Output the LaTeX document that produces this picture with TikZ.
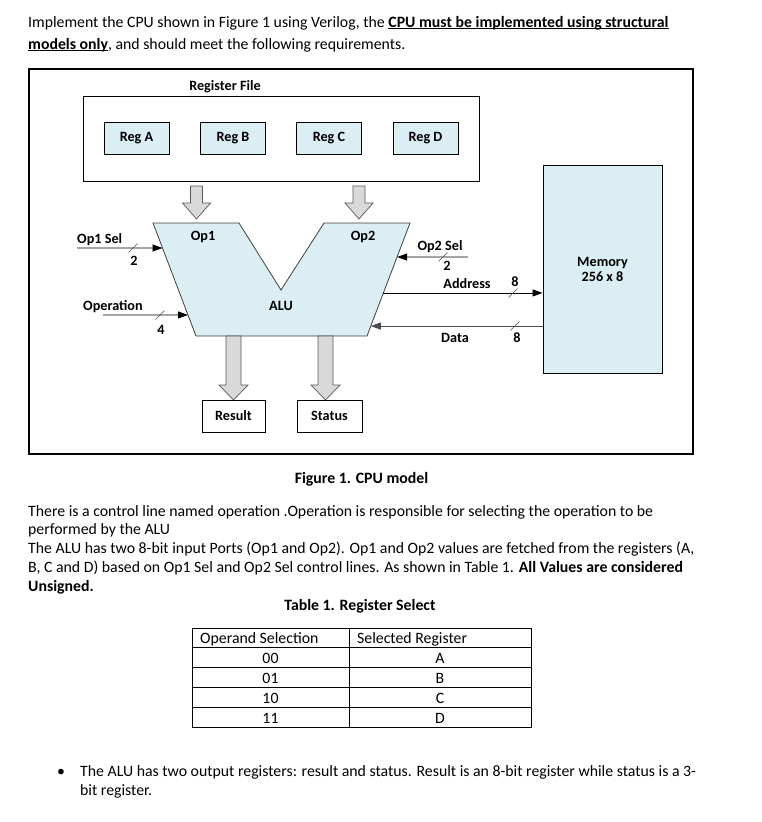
\documentclass[tikz,border=0pt]{standalone}
\usepackage{fontspec}
\setmainfont{Carlito}
\usetikzlibrary{arrows.meta,calc}
\definecolor{regblue}{HTML}{DAEEF3}
\definecolor{arrgray}{HTML}{D9D9D9}
\newcommand\bodyfont{\fontsize{15.8}{19}\selectfont}
\newcommand\diagfont{\fontsize{14.2}{16}\selectfont\bfseries}
\newcommand\myul[1]{\setbox0\hbox{#1}\rlap{\rule[-2.2pt]{\wd0}{1pt}}\box0}
\newcommand\blockarr[6]{%
  \draw[barrow] (#1-#5,#2) -- (#1+#5,#2) -- (#1+#5,#3) -- (#1+#6,#3) -- (#1,#4) -- (#1-#6,#3) -- (#1-#5,#3) -- cycle;}
\begin{document}
\begin{tikzpicture}[x=1pt,y=-1pt,
  txt/.style={inner sep=0pt, font=\bodyfont, anchor=base west},
  ctxt/.style={inner sep=0pt, font=\bodyfont, anchor=base},
  lab/.style={inner sep=0pt, font=\diagfont, text height=9.5pt, text depth=2.5pt},
  regbox/.style={draw, line width=0.9pt, fill=regblue, minimum width=65, minimum height=32, inner sep=0pt, font=\diagfont},
  outbox/.style={draw, line width=0.9pt, fill=white, minimum height=32, inner sep=0pt, font=\diagfont},
  barrow/.style={fill=arrgray, draw=black!65, line width=0.7pt, line join=miter},
  alu/.style={fill=regblue, draw=black!75, line width=0.8pt, line join=miter},
  wire/.style={line width=0.9pt, -{Triangle[length=10pt,width=7pt]}},
  slash/.style={line width=0.6pt, black!70},
  tline/.style={line width=0.8pt}
]
\useasboundingbox (0,0) rectangle (762,822);
\fill[white] (0,0) rectangle (762,822);

% heading text
\node[txt] (h1) at (28,27) {Implement the CPU shown in Figure 1 using Verilog, the \myul{\textbf{CPU must be implemented using structural}}};
\node[txt] (h2) at (28,49) {\myul{\textbf{models only}}, and should meet the following requirements.};

% frame
\node[draw, line width=1.1pt, minimum width=664, minimum height=385, inner sep=0pt] (frame) at (361,261.5) {};

% register file
\node[draw, line width=0.9pt, minimum width=396, minimum height=85, inner sep=0pt] (rf) at (281,138.5) {};
\node[lab] (rfl) at (225,87) {Register File};
\node[regbox] (rA) at (136.5,138) {Reg A};
\node[regbox] (rB) at (233,138) {Reg B};
\node[regbox] (rC) at (329,138) {Reg C};
\node[regbox] (rD) at (425.5,138) {Reg D};

% block arrows into ALU
\blockarr{196.5}{186}{203}{219}{6}{14}
\blockarr{359}{186}{203}{219}{6}{14}

% ALU
\coordinate (aTL) at (153,223);
\coordinate (aV1) at (239,223);
\coordinate (aV)  at (281,290);
\coordinate (aV2) at (324,223);
\coordinate (aTR) at (410,223);
\coordinate (aBR) at (367,336);
\coordinate (aBL) at (196,336);
\draw[alu] (aTL) -- (aV1) -- (aV) -- (aV2) -- (aTR) -- (aBR) -- (aBL) -- cycle;
\node[lab] (lop1) at (203,237) {Op1};
\node[lab] (lop2) at (363,237) {Op2};
\node[lab] (lalu) at (281,307) {ALU};

% memory
\node[draw, line width=0.9pt, fill=regblue, minimum width=119, minimum height=208, inner sep=0pt, font=\diagfont, align=center] (mem) at (602.5,269) {Memory\\[-1pt]256 x 8};

% output registers
\blockarr{233.5}{336}{385}{400}{7.5}{14.5}
\blockarr{325.5}{336}{385}{400}{7.5}{14.5}
\node[outbox, minimum width=63] (res) at (233.5,416) {Result};
\node[outbox, minimum width=65] (stat) at (329.5,416) {Status};

% control inputs
\coordinate (op1sS) at (77,248);
\coordinate (op1sE) at ($(aTL)!0.2212!(aBL)$);
\draw[wire] (op1sS) -- (op1sE);
\draw[slash] (133,248) +(-4.5,4.5) -- +(4.5,-4.5);
\node[lab, anchor=west] (lop1s) at (77,240) {Op1 Sel};
\node[lab] (n2a) at (134,262) {2};

\coordinate (opS) at (103,315);
\coordinate (opE) at ($(aTL)!0.814!(aBL)$);
\draw[wire] (opS) -- (opE);
\draw[slash] (160,315) +(-4.5,4.5) -- +(4.5,-4.5);
\node[lab, anchor=west] (lopn) at (83,307) {Operation};
\node[lab] (n4) at (161,331) {4};

\coordinate (op2sS) at (468,257);
\coordinate (op2sE) at ($(aTR)!0.301!(aBR)$);
\draw[wire] (op2sS) -- (op2sE);
\draw[slash] (443,257) +(-4.5,4.5) -- +(4.5,-4.5);
\node[lab] (lop2s) at (440,247) {Op2 Sel};
\node[lab] (n2b) at (447,267) {2};

% memory bus
\coordinate (adS) at ($(aTR)!0.619!(aBR)$);
\draw[wire] (adS) -- (mem.west |- adS);
\draw[slash] (513,293) +(-4.5,4.5) -- +(4.5,-4.5);
\node[lab] (ladr) at (467,285) {Address};
\node[lab] (n8a) at (515,283) {8};

\coordinate (daE) at ($(aTR)!0.912!(aBR)$);
\draw[wire, black!70] (mem.west |- daE) -- (daE);
\draw[slash] (515,326) +(-4.5,4.5) -- +(4.5,-4.5);
\node[lab] (ldat) at (455,339) {Data};
\node[lab] (n8b) at (517,339) {8};

% caption and paragraph
\node[ctxt, font=\bodyfont\bfseries] (cap) at (361.5,483) {Figure 1. CPU model};
\node[txt] (p1) at (28,516) {There is a control line named operation .Operation is responsible for selecting the operation to be};
\node[txt] (p2) at (28,534) {performed by the ALU};
\node[txt] (p3) at (28,553) {The ALU has two 8-bit input Ports (Op1 and Op2). Op1 and Op2 values are fetched from the registers (A,};
\node[txt] (p4) at (28,572) {B, C and D) based on Op1 Sel and Op2 Sel control lines. As shown in Table 1. \textbf{All Values are considered}};
\node[txt] (p5) at (28,591) {\textbf{Unsigned.}};
\node[ctxt, font=\bodyfont\bfseries] (tcap) at (360,610) {Table 1. Register Select};

% table
\draw[tline] (192,628) rectangle (531,727);
\draw[tline] (349,628) -- (349,727);
\foreach \yy in {647,667,687,707} \draw[tline] (192,\yy) -- (531,\yy);
\node[txt] (th1) at (200,643) {Operand Selection};
\node[txt] (th2) at (357,643) {Selected Register};
\node[ctxt] (c00) at (270.5,663) {00};
\node[ctxt] (c01) at (270.5,683) {01};
\node[ctxt] (c10) at (270.5,703) {10};
\node[ctxt] (c11) at (270.5,723) {11};
\node[ctxt] (cA) at (440,663) {A};
\node[ctxt] (cB) at (440,683) {B};
\node[ctxt] (cC) at (440,703) {C};
\node[ctxt] (cD) at (440,723) {D};

% bullet
\node[txt] (bul) at (57,776) {•};
\node[txt] (b1) at (80,776) {The ALU has two output registers: result and status. Result is an 8-bit register while status is a 3-};
\node[txt] (b2) at (80,795) {bit register.};
\end{tikzpicture}
\end{document}
